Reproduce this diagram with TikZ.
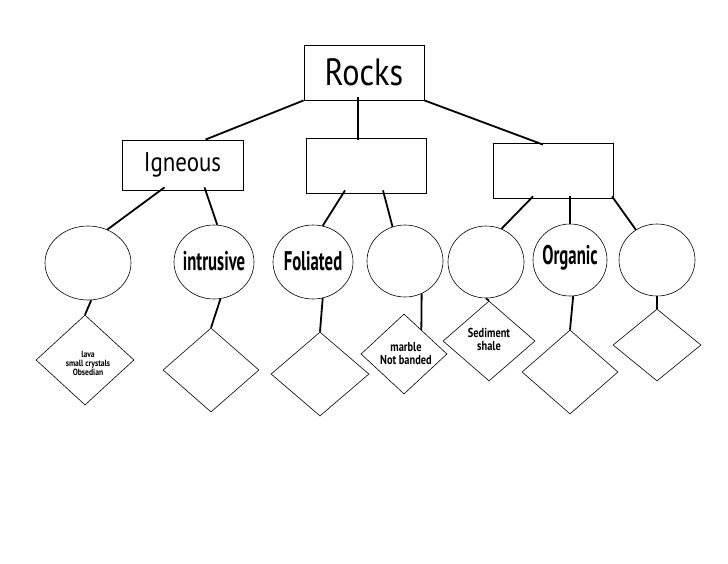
\documentclass[tikz,border=0pt]{standalone}
\usepackage{fontspec}
\setmainfont{PT Sans}
\usetikzlibrary{shapes.geometric,calc}
\begin{document}
\begin{tikzpicture}[x=1pt,y=-1pt,
  box/.style={draw,line width=0.8pt,inner sep=0pt},
  el/.style={draw,ellipse,line width=0.6pt,inner sep=0pt},
  dm/.style={draw,diamond,line width=0.6pt,inner sep=0pt},
  con/.style={line width=1.8pt},
  big/.style={font=\fontsize{38}{38}\selectfont\addfontfeature{FakeStretch=0.85}},
  mid/.style={font=\fontsize{27}{27}\selectfont\addfontfeature{FakeStretch=0.85}},
  ell/.style={font=\fontsize{27}{27}\bfseries\addfontfeature{FakeStretch=0.62}},
  sm/.style={font=\fontsize{9}{9}\bfseries\addfontfeature{FakeStretch=0.85},align=center},
  smd/.style={font=\fontsize{13}{13}\bfseries\addfontfeature{FakeStretch=0.8},align=center}]
\useasboundingbox (0,0) rectangle (728,563);
\node[box,minimum width=120,minimum height=55,big] (rocks) at (364,72.5) {Rocks};
\node[box,minimum width=121,minimum height=50,mid] (ig) at (182.5,165) {Igneous};
\node[box,minimum width=120,minimum height=55] (b2) at (366,165.5) {};
\node[box,minimum width=120,minimum height=55] (b3) at (553,170.5) {};
\node[el,minimum width=86,minimum height=74] (e1) at (88,263) {};
\node[el,minimum width=80,minimum height=74] (e2) at (214,262) {};
\node[ell] at (214,261) {intrusive};
\node[el,minimum width=80,minimum height=74] (e3) at (313,262) {};
\node[ell] at (313,261) {Foliated};
\node[el,minimum width=76,minimum height=72] (e4) at (405,261) {};
\node[el,minimum width=76,minimum height=72] (e5) at (486,262) {};
\node[el,minimum width=74,minimum height=72] (e6) at (570,260) {};
\node[ell] at (570,258) {Organic};
\node[el,minimum width=76,minimum height=72] (e7) at (657,260) {};
\node[dm,minimum width=98,minimum height=90] (d1) at (85,360) {};
\node[sm] at (88,363) {lava\\small crystals\\Obsedian};
\node[dm,minimum width=96,minimum height=84] (d2) at (211,370) {};
\node[dm,minimum width=98,minimum height=84] (d3) at (320,374) {};
\node[dm,minimum width=86,minimum height=80] (d4) at (404,354) {};
\node[smd] at (406,354) {marble\\Not banded};
\node[dm,minimum width=92,minimum height=80] (d5) at (489,341) {};
\node[smd] at (489,339) {Sediment\\shale};
\node[dm,minimum width=96,minimum height=84] (d6) at (570,372) {};
\node[dm,minimum width=88,minimum height=72] (d7) at (657,345) {};
\draw[con] (rocks.south west) -- ([xshift=23]ig.north);
\draw[con] ([xshift=-6,yshift=3]rocks.south) -- ([xshift=-8,yshift=-2]b2.north);
\draw[con] (rocks.south east) -- ([xshift=-10,yshift=-2]b3.north);
\draw[con] ([xshift=-18,yshift=3]ig.south) -- (e1.60);
\draw[con] ([xshift=22,yshift=3]ig.south) -- (e2.85);
\draw[con] ([xshift=-21,yshift=3]b2.south) -- (e3.75);
\draw[con] ([xshift=17,yshift=3]b2.south) -- (e4.110);
\draw[con] ([xshift=-20,yshift=2]b3.south) -- (e5.65);
\draw[con] ([xshift=17,yshift=2]b3.south) -- (e6.north);
\draw[con] ([xshift=59,yshift=2]b3.south) -- (e7.125);
\draw[con] (e1.-85) -- (d1.north);
\draw[con] (e2.-80) -- (d2.north);
\draw[con] (e3.-75) -- (d3.north);
\draw[con] (e4.-63) -- ($(d4.north)!0.4!(d4.east)$);
\draw[con] (e5.south) -- (d5.north);
\draw[con] (e6.-85) -- (d6.north);
\draw[con] (e7.south) -- (d7.north);
\end{tikzpicture}
\end{document}
